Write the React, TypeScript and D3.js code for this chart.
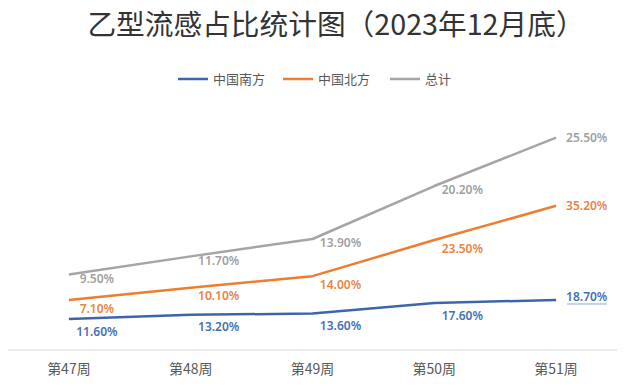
import React, { useRef, useEffect } from "react";
import * as d3 from "d3";

const weeks = ["第47周", "第48周", "第49周", "第50周", "第51周"];
const south = [11.6, 13.2, 13.6, 17.6, 18.7];
const north = [7.1, 10.1, 14.0, 23.5, 35.2];
const total = [9.5, 11.7, 13.9, 20.2, 25.5];

const seriesKeys = ["south", "north", "total"];
const seriesNames = ["中国南方", "中国北方", "总计"];
const lineColors = ["#3d66aa", "#ed7d31", "#a5a5a5"];
const labelColors = ["#4670b2", "#e8843f", "#a0a0a0"];

const FONT = "'Noto Sans CJK SC', 'Noto Sans', sans-serif";

function App() {
  const svgRef = useRef<SVGSVGElement>(null);

  useEffect(() => {
    const width = 634;
    const height = 389;
    const svg = d3.select(svgRef.current);
    svg.selectAll("*").remove();

    svg.append("rect").attr("width", width).attr("height", height).attr("fill", "#fff");

    // rows for the stack (stacked line chart, like Excel)
    const rows = weeks.map((w, i) => ({ week: w, south: south[i], north: north[i], total: total[i] }));
    const stacked = d3.stack<any>().keys(seriesKeys)(rows);

    const x = d3.scalePoint().domain(weeks).range([8, 617]).padding(0.5);
    const y = d3.scaleLinear().domain([0, 80]).range([350, 136]);

    // title
    svg
      .append("text")
      .attr("x", 336)
      .attr("y", 35)
      .attr("text-anchor", "middle")
      .attr("font-family", FONT)
      .attr("font-size", 28.7)
      .attr("fill", "#333")
      .text("乙型流感占比统计图（2023年12月底）");

    // legend
    const legendX = [178, 283, 390];
    seriesNames.forEach((name, i) => {
      const lg = svg.append("g").attr("transform", `translate(${legendX[i]}, 79)`);
      lg.append("line")
        .attr("x1", 0)
        .attr("x2", 30)
        .attr("stroke", lineColors[i])
        .attr("stroke-width", 2.5);
      lg.append("text")
        .attr("x", 35)
        .attr("dy", "0.35em")
        .attr("font-family", FONT)
        .attr("font-size", 13)
        .attr("fill", "#595959")
        .text(name);
    });

    // x axis line
    svg
      .append("line")
      .attr("x1", 8)
      .attr("x2", 617)
      .attr("y1", y(0))
      .attr("y2", y(0))
      .attr("stroke", "#d9d9d9")
      .attr("stroke-width", 1);

    svg
      .selectAll(".x-label")
      .data(weeks)
      .enter()
      .append("text")
      .attr("class", "x-label")
      .attr("x", (d) => x(d)!)
      .attr("y", 369)
      .attr("dy", "0.35em")
      .attr("text-anchor", "middle")
      .attr("font-family", FONT)
      .attr("font-size", 14)
      .attr("fill", "#595959")
      .text((d) => d);

    const line = d3
      .line<any>()
      .x((d) => x(d.data.week)!)
      .y((d) => y(d[1]));

    stacked.forEach((layer, si) => {
      svg
        .append("path")
        .datum(layer)
        .attr("d", line)
        .attr("fill", "none")
        .attr("stroke", lineColors[si])
        .attr("stroke-width", 2.5)
        .attr("stroke-linejoin", "round");
    });

    // data labels
    const labelDy = [12.5, 8.5, 4];
    const values = [south, north, total];
    stacked.forEach((layer, si) => {
      layer.forEach((d: any, i: number) => {
        const last = i === weeks.length - 1;
        const px = x(d.data.week)!;
        const py = y(d[1]);
        const t = svg
          .append("text")
          .attr("x", last ? px + 10 : px + 28)
          .attr("y", last ? py + (si === 0 ? -3 : 0) : py + labelDy[si])
          .attr("dy", "0.35em")
          .attr("text-anchor", last ? "start" : "middle")
          .attr("font-family", "'Noto Sans', sans-serif")
          .attr("font-size", 12)
          .attr("font-weight", 600)
          .attr("fill", labelColors[si])
          .text(values[si][i].toFixed(2) + "%");
        if (last && si === 0) {
          const bb = (t.node() as SVGTextElement).getBBox();
          svg
            .append("line")
            .attr("x1", bb.x + 1)
            .attr("x2", bb.x + bb.width - 1)
            .attr("y1", py + 4)
            .attr("y2", py + 4)
            .attr("stroke", "#8fa6cf")
            .attr("stroke-width", 1);
        }
      });
    });
  }, []);

  return (
    <svg
      ref={svgRef}
      width={634}
      height={389}
      style={{ position: "absolute", left: 0, top: 0, display: "block" }}
    ></svg>
  );
}

export default App;
